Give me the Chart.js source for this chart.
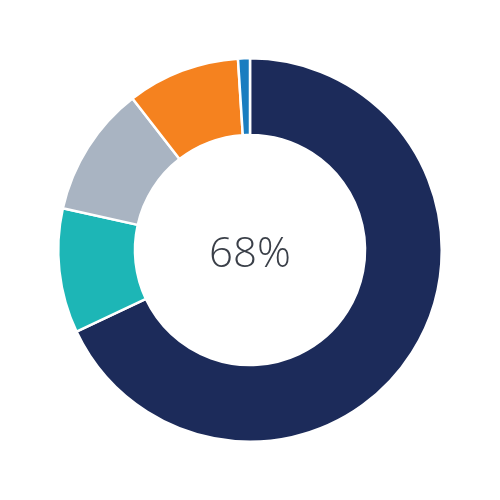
<!DOCTYPE html>
<html><head><meta charset="utf-8">
<script src="https://cdn.jsdelivr.net/npm/chart.js@4"></script>
<style>html,body{margin:0;background:#fff}#w{position:relative;width:500px;height:500px}
#t{position:absolute;left:0;top:0;width:500px;height:500px;display:flex;align-items:center;justify-content:center;font-family:'Open Sans',sans-serif;font-weight:300;font-size:42px;color:#3a3f48;pointer-events:none}</style>
</head><body><div id="w"><canvas id="c" width="500" height="500"></canvas><div id="t">68%</div></div>
<script>
const categories = ["A","B","C","D","E"];
const values = [68, 10.5, 11, 9.5, 1];
const colors = ["#1c2b5a","#1db6b6","#a9b4c2","#f5821f","#1a7dc0"];
new Chart(document.getElementById('c'), {
  type: 'doughnut',
  data: { labels: categories, datasets: [{ data: values, backgroundColor: colors, borderColor: '#fff', borderWidth: 2.5 }] },
  options: { responsive:false, animation:false, cutout:'60%', layout:{padding:57},
    plugins:{legend:{display:false}, tooltip:{enabled:false}} }
});
</script></body></html>
